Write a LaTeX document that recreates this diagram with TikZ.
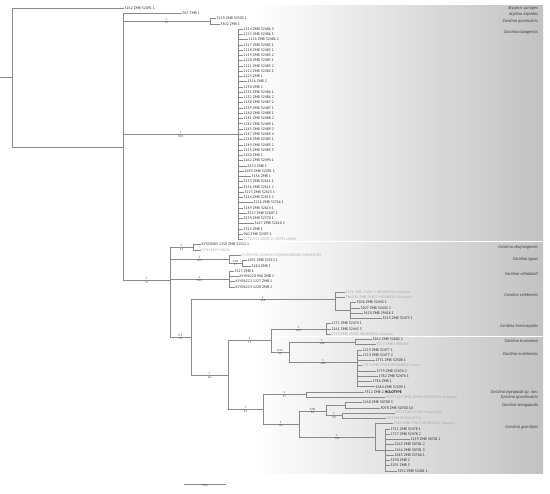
\documentclass[tikz,border=0pt]{standalone}
\usepackage{fontspec}
\setmainfont{PT Sans}
\definecolor{treeg}{HTML}{8A8A8A}
\definecolor{leafc}{HTML}{222222}
\definecolor{greyleaf}{HTML}{A8A8A8}
\definecolor{supc}{HTML}{404040}
\definecolor{bandc}{HTML}{C2C2C2}
\definecolor{spc}{HTML}{303030}
\tikzset{
  br/.style={draw=treeg, line width=0.45pt},
  lf/.style={anchor=west, inner sep=0.5pt, font=\fontsize{3.7}{4}\selectfont, text=leafc},
  glf/.style={lf, text=greyleaf},
  sup/.style={font=\fontsize{2.9}{3}\selectfont, text=supc, inner sep=0.5pt},
  sp/.style={anchor=east, font=\fontsize{4.3}{5}\selectfont\itshape, text=spc, inner sep=0pt},
  band/.style={left color=white, right color=bandc, draw=none}
}
\newcommand\Ly[1]{8+5.26*#1}
\newcommand\brs[4]{\draw[br] (#1) |- (#2) node[pos=0.75,above,sup]{#3} node[pos=0.75,below,sup]{#4};}
\newcommand\tolf[2]{\draw[br] (#1) |- (#2.west);}
\newcommand\sband[5]{\shade[band] (255,#1) rectangle (543,#2); \node[sp] (#4) at (538,#3) {#5};}
\begin{document}
\begin{tikzpicture}[x=1pt,y=-1pt]
\useasboundingbox (0,0) rectangle (550,494);
% ---- species bands
\sband{6}{11}{8.6}{s1}{Atyopsis spinipes}
\sband{11.8}{16.6}{14.2}{s2}{Atydina atyoides}
\sband{18}{25.5}{21.8}{s3}{Caridina parvirostris}
\sband{27}{241}{32}{s4}{Caridina laoagensis}
\sband{242.5}{251.5}{247}{s5}{Caridina zhujiangensis}
\sband{252.5}{268.5}{259}{s6}{Caridina typus}
\sband{269.5}{288.5}{274}{s7}{Caridina villadolidi}
\sband{289.5}{321}{294.5}{s8}{Caridina celebensis}
\sband{322}{336}{326.5}{s9}{Caridina brevicarpalis}
\sband{337.5}{348}{341}{s10}{Caridina bruneiana}
\sband{349}{389.5}{353.5}{s11}{Caridina endehensis}
\sband{390.5}{395}{392.8}{s12}{Caridina leptopoda sp. nov.}
\sband{395.6}{400}{397.8}{s13}{Caridina gracilirostris}
\sband{401}{421}{405.5}{s14}{Caridina elongapoda}
\sband{422}{474}{427.5}{s15}{Caridina gracilipes}
% ---- root and outgroups
\coordinate (rs) at (0,77.5);
\coordinate (root) at (12,77.5);
\draw[br] (rs) -- (root);
\node[lf] (l0) at (124,{\Ly{0}}) {3262 ZMB 32091 1};
\tolf{root}{l0}
\coordinate (A) at (123,147);
\draw[br] (root) |- (A);
\node[lf] (l1) at (182,{\Ly{1}}) {967 ZMB 1};
\tolf{A}{l1}
\coordinate (P) at (210,21.2);
\brs{A}{P}{1}{94}
\node[lf] (l2) at (216,{\Ly{2}}) {3159 ZMB 32503 1};
\node[lf] (l3) at (220,{\Ly{3}}) {3302 ZMB 1};
\tolf{P}{l2}\tolf{P}{l3}
% ---- laoagensis
\coordinate (Q) at (238,134.5);
\brs{A}{Q}{1}{100}
\foreach [count=\i from 4] \t/\x in {1214 ZMB 32486 3/243, 1215 ZMB 32486 1/243, 1216 ZMB 32486 2/248,
  1217 ZMB 32485 1/243, 1218 ZMB 32485 1/243, 1219 ZMB 32485 2/243, 1220 ZMB 32485 1/243,
  1221 ZMB 32485 2/243, 1222 ZMB 32482 1/243, 1225 ZMB 1/243, 1226 ZMB 2/247, 1230 ZMB 2/243,
  1231 ZMB 32486 1/243, 1232 ZMB 32486 2/243, 1238 ZMB 32487 2/243, 1239 ZMB 32487 1/243,
  1240 ZMB 32488 1/243, 1241 ZMB 32488 2/243, 1242 ZMB 32489 1/243, 1243 ZMB 32489 2/243,
  1247 ZMB 32483 4/243, 1248 ZMB 32483 1/243, 1249 ZMB 32483 2/243, 1255 ZMB 32485 3/243,
  1260 ZMB 1/243, 1262 ZMB 32494 1/243, 2674 ZMB 1/247, 2695 ZMB 32491 1/244, 3136 ZMB 1/251,
  3155 ZMB 32611 1/243, 3156 ZMB 32611 2/243, 3213 ZMB 32613 1/244, 3214 ZMB 32613 2/243,
  3226 ZMB 32766 1/253, 3249 ZMB 32614 1/243, 3257 ZMB 32607 1/247, 3259 ZMB 32770 1/243,
  3267 ZMB 32610 2/254, 3315 ZMB 1/243, 960 ZMB 32497 1/243}
  {\node[lf] (l\i) at (\x,{\Ly{\i}}) {\t}; \tolf{Q}{l\i}}
\node[glf] (l44) at (243,{\Ly{44}}) {LC710925 NSMT Cr 30795 JAPAN};
\tolf{Q}{l44}
% ---- ingroup core
\coordinate (D) at (170,280.6);
\brs{A}{D}{1}{76}
\coordinate (Z) at (193,247.3);
\brs{D}{Z}{1}{94}
\node[lf] (l45) at (201,{\Ly{45}}) {KY350405 1258 ZMB 32512 1};
\node[glf] (l46) at (201,{\Ly{46}}) {MT448499 CHINA};
\tolf{Z}{l45}\tolf{Z}{l46}
\coordinate (T1) at (229,259.1);
\brs{D}{T1}{1}{100}
\node[glf] (l47) at (241,{\Ly{47}}) {KY083990 CUMAHH ZC(D)SM2009001 MAURITIUS};
\tolf{T1}{l47}
\coordinate (T2) at (242,263.1);
\brs{T1}{T2}{0.98}{97}
\node[lf] (l48) at (247,{\Ly{48}}) {2691 ZMB 32513 1};
\node[lf] (l49) at (251,{\Ly{49}}) {3184 ZMB 1};
\tolf{T2}{l48}\tolf{T2}{l49}
\coordinate (V) at (229,278.8);
\brs{D}{V}{1}{100}
\node[lf] (l50) at (234,{\Ly{50}}) {3127 ZMB 1};
\node[lf] (l51) at (239,{\Ly{51}}) {KY436220 968 ZMB 1};
\node[lf] (l52) at (235,{\Ly{52}}) {KY436222 1227 ZMB 1};
\node[lf] (l53) at (235,{\Ly{53}}) {KY436223 1228 ZMB 2};
\tolf{V}{l50}\tolf{V}{l51}\tolf{V}{l52}\tolf{V}{l53}
\coordinate (E) at (191,337);
\brs{D}{E}{0.9}{50}
% celebensis
\coordinate (C0) at (335,299);
\brs{E}{C0}{1}{100}
\node[glf] (l54) at (345,{\Ly{54}}) {3271 ZMB 25003 3 INDONESIA Sulawesi};
\node[glf] (l55) at (345,{\Ly{55}}) {TN6036 ZMB 29402 INDONESIA Sulawesi};
\tolf{C0}{l54}\tolf{C0}{l55}
\coordinate (C1) at (350,310.4);
\draw[br] (C0) |- (C1);
\node[lf] (l56) at (356,{\Ly{56}}) {3206 ZMB 32443 1};
\node[lf] (l57) at (360,{\Ly{57}}) {3207 ZMB 32443 2};
\node[lf] (l58) at (363,{\Ly{58}}) {3620 ZMB 29418 1};
\node[lf] (l59) at (382,{\Ly{59}}) {3213 ZMB 32475 1};
\tolf{C1}{l56}\tolf{C1}{l57}\tolf{C1}{l58}\tolf{C1}{l59}
\coordinate (F) at (228,375.5);
\brs{E}{F}{1}{66}
\coordinate (G) at (271,340.5);
\brs{F}{G}{1}{74}
\coordinate (B) at (326,329);
\brs{G}{B}{1}{100}
\node[lf] (l60) at (331,{\Ly{60}}) {1271 ZMB 32474 1};
\node[lf] (l61) at (331,{\Ly{61}}) {2161 ZMB 32442 3};
\node[glf] (l62) at (331,{\Ly{62}}) {2743 ZMB 29405 INDONESIA Sulawesi};
\tolf{B}{l60}\tolf{B}{l61}\tolf{B}{l62}
\coordinate (H) at (289,352);
\brs{G}{H}{0.54}{40}
\coordinate (R) at (355,342);
\brs{H}{R}{1}{100}
\node[lf] (l63) at (372,{\Ly{63}}) {3162 ZMB 32605 2};
\node[glf] (l64) at (376,{\Ly{64}}) {3227 ZMB 1 BRUNEI};
\tolf{R}{l63}\tolf{R}{l64}
\coordinate (N) at (357,362);
\brs{H}{N}{1}{100}
\foreach [count=\i from 65] \t/\x in {1223 ZMB 32477 1/362, 1224 ZMB 32477 2/362, 2751 ZMB 32508 1/375}
  {\node[lf] (l\i) at (\x,{\Ly{\i}}) {\t}; \tolf{N}{l\i}}
\node[glf] (l68) at (362,{\Ly{68}}) {2745 ZMB 29410 INDONESIA Flores};
\tolf{N}{l68}
\foreach [count=\i from 69] \t/\x in {1779 ZMB 32476 2/376, 1782 ZMB 32476 1/378, 1786 ZMB 1/372, 2684 ZMB 32509 1/375}
  {\node[lf] (l\i) at (\x,{\Ly{\i}}) {\t}; \tolf{N}{l\i}}
% leptopoda etc.
\coordinate (I) at (263,409.5);
\brs{F}{I}{1}{92}
\coordinate (J) at (306,394.5);
\brs{I}{J}{1}{97}
\node[lf] (l73) at (364,{\Ly{73}}) {3312 ZMB 2 \textbf{HOLOTYPE}};
\node[glf] (l74) at (385,{\Ly{74}}) {MK947016 ZMB\_29459 INDONESIA Sulawesi};
\tolf{J}{l73}\tolf{J}{l74}
\coordinate (K) at (299,424);
\brs{I}{K}{1}{84}
\coordinate (L) at (326,411);
\brs{K}{L}{0.98}{98}
\coordinate (L0) at (345,405.2);
\draw[br] (L) |- (L0);
\node[lf] (l75) at (362,{\Ly{75}}) {2160 ZMB 30700 3};
\node[lf] (l76) at (380,{\Ly{76}}) {3078 ZMB 30700 10};
\tolf{L0}{l75}\tolf{L0}{l76}
\coordinate (L1) at (342,415.5);
\brs{L}{L1}{1}{98}
\node[glf] (l77) at (395,{\Ly{77}}) {KP121582 CHINA Hong Kong};
\node[glf] (l78) at (386,{\Ly{78}}) {MK189190 MALAYSIA};
\tolf{L1}{l77}\tolf{L1}{l78}
\coordinate (S) at (375,437);
\brs{K}{S}{1}{100}
\node[glf] (l79) at (393,{\Ly{79}}) {3304 ZMB 29019 INDONESIA Sulawesi};
\tolf{S}{l79}
\coordinate (S1) at (385,450);
\draw[br] (S) |- (S1);
\foreach [count=\i from 80] \t/\x in {1751 ZMB 32478 1/390, 1757 ZMB 32478 2/390, 2159 ZMB 30701 1/410,
  2165 ZMB 30701 2/394, 2166 ZMB 30701 3/394, 2683 ZMB 32768 1/394, 3290 ZMB 2/390, 3291 ZMB 3/390,
  3292 ZMB 32481 1/397}
  {\node[lf] (l\i) at (\x,{\Ly{\i}}) {\t}; \tolf{S1}{l\i}}
% scale bar
\coordinate (sb1) at (184,484);
\coordinate (sb2) at (226,484);
\draw[br] (sb1) -- (sb2) node[midway,below,sup] (sbl) {0.04};
\end{tikzpicture}
\end{document}
